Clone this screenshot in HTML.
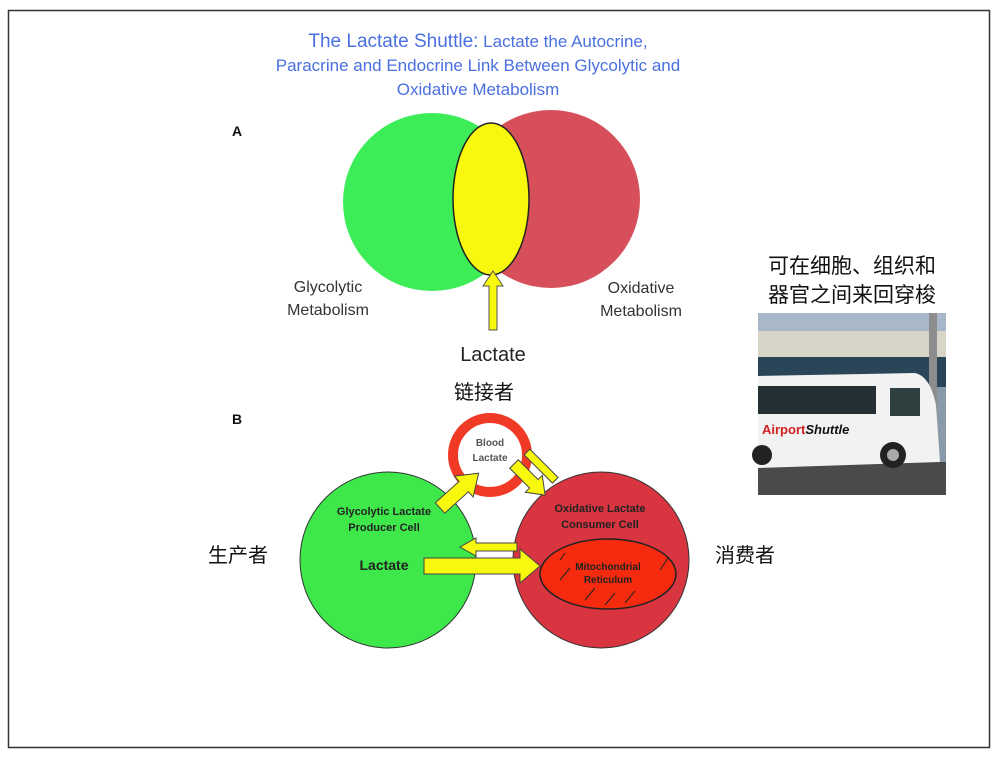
<!DOCTYPE html>
<html><head><meta charset="utf-8"><style>
body{margin:0;background:#fff;width:1000px;height:763px;overflow:hidden}
svg{display:block}
text{font-family:"Liberation Sans","Noto Sans CJK SC",sans-serif}
</style></head><body>
<svg width="1000" height="763" viewBox="0 0 1000 763" xmlns="http://www.w3.org/2000/svg">
<rect x="8.5" y="10.5" width="981" height="737" fill="#fff" stroke="#333" stroke-width="1.5"/>
<g fill="#4a6fe0" font-size="17" text-anchor="middle">
<text x="478" y="47"><tspan font-size="19">The Lactate Shuttle:</tspan> Lactate the Autocrine,</text>
<text x="478" y="71">Paracrine and Endocrine Link Between Glycolytic and</text>
<text x="478" y="95">Oxidative Metabolism</text>
</g>
<text x="232" y="136" font-size="14" font-weight="bold" fill="#111">A</text>
<circle cx="432" cy="202" r="89" fill="#3ded58"/>
<circle cx="551" cy="199" r="89" fill="#d74f5a"/>
<ellipse cx="491" cy="199" rx="38" ry="76" fill="#f8f80e" stroke="#222" stroke-width="1.5"/>
<polygon points="493,271 503,286 497,286 497,330 489,330 489,286 483,286" fill="#f8f80e" stroke="#555" stroke-width="1"/>
<g fill="#333" font-size="16" text-anchor="middle">
<text x="328" y="292">Glycolytic</text><text x="328" y="315">Metabolism</text>
<text x="641" y="293">Oxidative</text><text x="641" y="316">Metabolism</text>
</g>
<text x="493" y="361" font-size="20" fill="#222" text-anchor="middle">Lactate</text>
<text x="484" y="399" font-size="20" fill="#111" text-anchor="middle">链接者</text>
<text x="232" y="424" font-size="14" font-weight="bold" fill="#111">B</text>
<circle cx="388" cy="560" r="88" fill="#3ee84a" stroke="#333" stroke-width="1"/>
<circle cx="601" cy="560" r="88" fill="#d83540" stroke="#333" stroke-width="1"/>
<circle cx="490" cy="455" r="37" fill="#fff" stroke="#f03a25" stroke-width="10"/>
<text x="490" y="446" font-size="10" font-weight="bold" fill="#555" text-anchor="middle">Blood</text>
<text x="490" y="461" font-size="10" font-weight="bold" fill="#555" text-anchor="middle">Lactate</text>
<ellipse cx="608" cy="574" rx="68" ry="35" fill="#f52a0e" stroke="#222" stroke-width="1.5"/>
<g stroke="#222" stroke-width="1">
<line x1="560" y1="580" x2="570" y2="568"/><line x1="585" y1="600" x2="595" y2="588"/><line x1="605" y1="605" x2="615" y2="593"/><line x1="625" y1="603" x2="635" y2="591"/><line x1="660" y1="570" x2="668" y2="558"/><line x1="560" y1="560" x2="565" y2="553"/>
</g>
<text x="608" y="570" font-size="10" font-weight="bold" fill="#222" text-anchor="middle">Mitochondrial</text>
<text x="608" y="583" font-size="10" font-weight="bold" fill="#222" text-anchor="middle">Reticulum</text>
<g font-size="11" font-weight="bold" fill="#222" text-anchor="middle">
<text x="384" y="515">Glycolytic Lactate</text><text x="384" y="531">Producer Cell</text>
<text x="600" y="512">Oxidative Lactate</text><text x="600" y="528">Consumer Cell</text>
</g>
<text x="384" y="570" font-size="14" font-weight="bold" fill="#222" text-anchor="middle">Lactate</text>
<g fill="#f8f80e" stroke="#444" stroke-width="1">
<polygon points="424,558 520,558 520,549 540,566 520,583 520,574 424,574"/>
<polygon points="517,543 476,543 476,538 460,547 476,556 476,551 517,551"/>
<polygon transform="translate(440,508) rotate(-42)" points="0,-7 32,-7 32,-14 52,0 32,14 32,7 0,7"/>
<polygon transform="translate(514,464) rotate(45)" points="0,-6 28,-6 28,-12 44,0 28,12 28,6 0,6"/>
<rect transform="translate(527,452) rotate(45)" x="0" y="-4" width="40" height="8"/>
</g>
<text x="238" y="562" font-size="20" fill="#111" text-anchor="middle">生产者</text>
<text x="745" y="562" font-size="20" fill="#111" text-anchor="middle">消费者</text>
<text x="852" y="273" font-size="21" fill="#111" text-anchor="middle">可在细胞、组织和</text>
<text x="852" y="302" font-size="21" fill="#111" text-anchor="middle">器官之间来回穿梭</text>
<g>
<rect x="758" y="313" width="188" height="182" fill="#8a9aa8"/>
<rect x="758" y="313" width="188" height="18" fill="#a9b8c8"/>
<rect x="758" y="331" width="188" height="26" fill="#d8d4c8"/>
<rect x="758" y="357" width="188" height="30" fill="#2a4558"/>
<rect x="929" y="313" width="8" height="150" fill="#8d8d8d"/>
<rect x="758" y="462" width="188" height="33" fill="#4a4a4c"/>
<path d="M758 376 L915 373 Q930 376 936 405 L940 462 L758 468 Z" fill="#f2f2f2"/>
<rect x="758" y="386" width="118" height="28" fill="#253035"/>
<rect x="890" y="388" width="30" height="28" fill="#2e4040"/>
<text x="762" y="434" font-size="13" font-weight="bold" fill="#d02020">Airport<tspan fill="#111" font-style="italic">Shuttle</tspan></text>
<circle cx="893" cy="455" r="13" fill="#222"/><circle cx="893" cy="455" r="6" fill="#aaa"/>
<circle cx="762" cy="455" r="10" fill="#222"/>
</g>
</svg>
</body></html>
